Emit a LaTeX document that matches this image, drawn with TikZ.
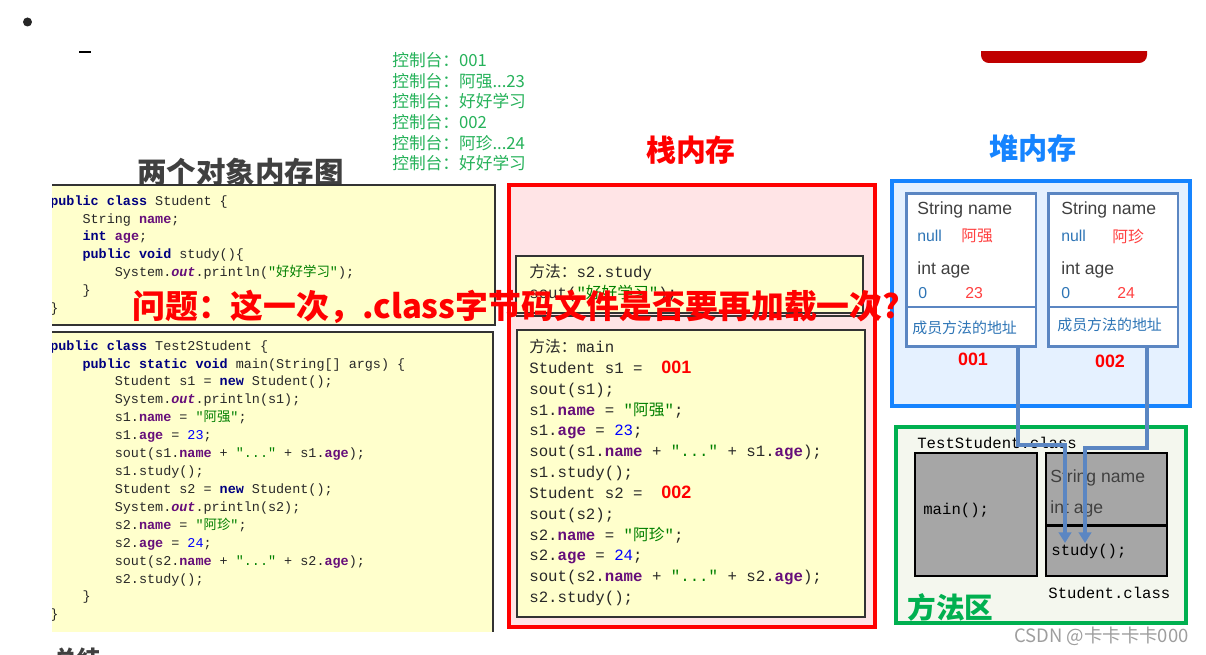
\documentclass[tikz,border=0pt]{standalone}
\usepackage{fontspec}
\setmainfont{Liberation Sans}
\setmonofont{Liberation Mono}
\newfontfamily\cjk{Noto Sans CJK SC}
\usetikzlibrary{arrows.meta,positioning}

\definecolor{consolegreen}{RGB}{38,178,90}
\definecolor{kwnavy}{RGB}{0,0,128}
\definecolor{fldpurple}{RGB}{102,14,122}
\definecolor{strgreen}{RGB}{0,128,0}
\definecolor{numblue}{RGB}{0,0,255}
\definecolor{codeyellow}{RGB}{255,255,204}
\definecolor{codetext}{RGB}{40,40,40}
\definecolor{codeedge}{RGB}{51,51,51}
\definecolor{stackred}{RGB}{255,0,0}
\definecolor{stackpink}{RGB}{255,228,230}
\definecolor{heapblue}{RGB}{22,132,255}
\definecolor{heapfill}{RGB}{229,241,255}
\definecolor{objedge}{RGB}{91,134,194}
\definecolor{objtext}{RGB}{46,117,182}
\definecolor{valred}{RGB}{255,64,64}
\definecolor{areagreen}{RGB}{0,176,80}
\definecolor{areafill}{RGB}{244,247,238}
\definecolor{cellgray}{RGB}{166,166,166}
\definecolor{darkred}{RGB}{192,0,0}
\definecolor{titlegray}{RGB}{64,64,64}

% code colouring
\newcommand\zh[1]{{\cjk #1}}
\newcommand\jkw[1]{\textcolor{kwnavy}{\textbf{#1}}}
\newcommand\jfld[1]{\textcolor{fldpurple}{\textbf{#1}}}
\newcommand\jout{\textcolor{fldpurple}{\textbf{\textit{out}}}}
\newcommand\jstr[1]{\textcolor{strgreen}{#1}}
\newcommand\jnum[1]{\textcolor{numblue}{#1}}
\newcommand\ind[1]{\hspace*{#1\dimexpr0.6em\relax}}
\newcommand\addrtxt[1]{\textcolor{stackred}{\rmfamily\bfseries\fontsize{10.2}{11.8}\selectfont #1}}

\begin{document}
\begin{tikzpicture}[x=0.02cm, y=-0.02cm,
    codebox/.style={anchor=north west, inner sep=0pt, align=left, text=codetext,
                    font=\ttfamily\fontsize{7.65}{10.2}\selectfont},
    stackcode/.style={codebox, font=\ttfamily\fontsize{8.95}{11.85}\selectfont},
    console/.style={anchor=north west, inner sep=0pt, align=left, text=consolegreen,
                    font=\cjk\fontsize{9.5}{11.75}\selectfont},
    areatitle/.style={inner sep=0pt, font=\cjk\bfseries\fontsize{17}{20}\selectfont},
    objbox/.style={draw=objedge, line width=1.7pt, fill=white,
                   minimum width=2.6cm, minimum height=3.08cm, inner sep=0pt},
    field/.style={anchor=west, inner sep=0pt, text=titlegray, font=\fontsize{10}{12}\selectfont},
    nullval/.style={anchor=west, inner sep=0pt, text=objtext, font=\fontsize{9}{11}\selectfont},
    setval/.style={anchor=west, inner sep=0pt, text=valred, font=\fontsize{9}{11}\selectfont},
    methaddr/.style={anchor=west, inner sep=0pt, text=objtext, font=\cjk\fontsize{8.5}{10}\selectfont},
    addr/.style={inner sep=0pt, text=stackred, font=\bfseries\fontsize{10.2}{12}\selectfont},
    cell/.style={draw=black, line width=0.9pt, fill=cellgray, inner sep=0pt},
    monotext/.style={anchor=west, inner sep=0pt, font=\ttfamily\fontsize{8.9}{11}\selectfont},
    refline/.style={draw=objedge, line width=2pt, -{Triangle[width=7pt,length=6pt]}},
]
\useasboundingbox (0,0) rectangle (1206,655);
\fill[white] (0,0) rectangle (1206,655);
\clip (0,0) rectangle (1206,655);

% Slide leftovers
\fill[black!85] (27.5,22) circle[radius=0.09cm];
\draw[black, line width=1.1pt] (79,52) -- (91,52);
\begin{scope}
  \clip (0,52) rectangle (1206,80);
  \fill[darkred, rounded corners=4.5pt] (981,40) rectangle (1147,63);
\end{scope}

% Console output
\node[console] (console) at (392,52)
    {控制台：001\\控制台：阿强...23\\控制台：好好学习\\控制台：002\\控制台：阿珍...24\\控制台：好好学习};

% Source code
\node[areatitle, text=titlegray, font=\cjk\bfseries\fontsize{16.8}{20}\selectfont] (twoobj) at (240.5,172)
    {两个对象内存图};
\fill[codeyellow] (52,185) rectangle (495,325);
\draw[codeedge, line width=1.1pt] (52,185) -- (495,185) -- (495,325) -- (52,325);
\fill[codeyellow] (52,332) rectangle (493,632);
\draw[codeedge, line width=1.1pt] (52,332) -- (493,332) -- (493,632);
\begin{scope}
  \clip (52,180) rectangle (500,640);
  \node[codebox] (studentsrc) at (50,195)
    {\jkw{public} \jkw{class} Student \{\\
     \ind{4}String \jfld{name};\\
     \ind{4}\jkw{int} \jfld{age};\\
     \ind{4}\jkw{public} \jkw{void} study()\{\\
     \ind{8}System.\jout.println(\jstr{"\zh{好好学习}"});\\
     \ind{4}\}\\
     \}};
  \node[codebox] (testsrc) at (50,340)
    {\jkw{public} \jkw{class} Test2Student \{\\
     \ind{4}\jkw{public} \jkw{static} \jkw{void} main(String[] args) \{\\
     \ind{8}Student s1 = \jkw{new} Student();\\
     \ind{8}System.\jout.println(s1);\\
     \ind{8}s1.\jfld{name} = \jstr{"\zh{阿强}"};\\
     \ind{8}s1.\jfld{age} = \jnum{23};\\
     \ind{8}sout(s1.\jfld{name} + \jstr{"..."} + s1.\jfld{age});\\
     \ind{8}s1.study();\\
     \ind{8}Student s2 = \jkw{new} Student();\\
     \ind{8}System.\jout.println(s2);\\
     \ind{8}s2.\jfld{name} = \jstr{"\zh{阿珍}"};\\
     \ind{8}s2.\jfld{age} = \jnum{24};\\
     \ind{8}sout(s2.\jfld{name} + \jstr{"..."} + s2.\jfld{age});\\
     \ind{8}s2.study();\\
     \ind{4}\}\\
     \}};
\end{scope}

% Stack
\node[areatitle, text=stackred] (stacktitle) at (691,150) {栈内存};
\draw[stackred, line width=2.2pt, fill=stackpink] (509,185) rectangle (875,627);
\draw[codeedge, line width=1.1pt, fill=codeyellow] (516,256) rectangle (863,313);
\draw[codeedge, line width=1.1pt] (516,316) -- (863,316);
\draw[codeedge, line width=1.1pt, fill=codeyellow] (517,330) rectangle (865,617);
\node[stackcode] (s2code) at (529,264)
    {\zh{方法：}s2.study\\
     sout(\jstr{"\zh{好好学习}"});};
\node[stackcode] (maincode) at (529,339)
    {\zh{方法：}main\\
     Student s1 =\ \ \addrtxt{001}\\
     sout(s1);\\
     s1.\jfld{name} = \jstr{"\zh{阿强}"};\\
     s1.\jfld{age} = \jnum{23};\\
     sout(s1.\jfld{name} + \jstr{"..."} + s1.\jfld{age});\\
     s1.study();\\
     Student s2 =\ \ \addrtxt{002}\\
     sout(s2);\\
     s2.\jfld{name} = \jstr{"\zh{阿珍}"};\\
     s2.\jfld{age} = \jnum{24};\\
     sout(s2.\jfld{name} + \jstr{"..."} + s2.\jfld{age});\\
     s2.study();};

% Heap
\node[areatitle, text=heapblue, font=\cjk\bfseries\fontsize{16.6}{20}\selectfont] (heaptitle) at (1033,148) {堆内存};
\draw[heapblue, line width=2.1pt, fill=heapfill] (892,181) rectangle (1190,406);
\node[objbox] (obj1) at (971,270) {};
\node[objbox] (obj2) at (1113,270) {};
\draw[objedge, line width=1.7pt] (906,307) -- (1036,307);
\draw[objedge, line width=1.7pt] (1048,307) -- (1178,307);

\node[field] (o1name) at (917,210) {String name};
\node[nullval] (o1null) at (917,236) {null};
\node[setval] (o1set) at (961,236) {\zh{阿强}};
\node[field] (o1age) at (917,270) {int age};
\node[nullval] (o1zero) at (918,293) {0};
\node[setval] (o1val) at (965,293) {23};
\node[methaddr] (o1meth) at (912,328) {成员方法的地址};
\node[addr] (o1addr) at (973,359) {001};

\node[field] (o2name) at (1061,210) {String name};
\node[nullval] (o2null) at (1061,236) {null};
\node[setval] (o2set) at (1112,236) {\zh{阿珍}};
\node[field] (o2age) at (1061,270) {int age};
\node[nullval] (o2zero) at (1061,293) {0};
\node[setval] (o2val) at (1117,293) {24};
\node[methaddr] (o2meth) at (1057,325) {成员方法的地址};
\node[addr] (o2addr) at (1110,361) {002};

% Method area
\draw[areagreen, line width=2.1pt, fill=areafill] (896,427) rectangle (1186,623);
\node[monotext] (tsclass) at (917,443) {TestStudent.class};
\node[cell, minimum width=2.44cm, minimum height=2.46cm] (mainbox) at (976,514.5) {};
\node[cell, minimum width=2.42cm, minimum height=1.44cm] (fieldcell) at (1106.5,489) {};
\node[cell, minimum width=2.42cm, minimum height=1.0cm] (studycell) at (1106.5,551) {};
\node[monotext] (maincall) at (923,510) {main();};
\node[field] (cname) at (1050,478) {String name};
\node[field] (cage) at (1050,509) {int age};
\node[monotext] (studycall) at (1051,551) {study();};
\node[monotext] (sclass) at (1048,593) {Student.class};
\node[areatitle, text=areagreen, anchor=west, font=\cjk\bfseries\fontsize{16.3}{20}\selectfont] (methtitle) at (907,607) {方法区};

% References from objects to member methods
\coordinate (ref1) at (1018,347);
\coordinate (hit1) at (1065,543);
\coordinate (ref2) at (1147,347);
\coordinate (hit2) at (1085,543);
\draw[refline] (ref1) -- ++(0,98) -| (hit1);
\draw[refline] (ref2) -- ++(0,101) -| (hit2);

% Question overlay
\node[anchor=west, inner sep=0pt, text=stackred, font=\cjk\bfseries\fontsize{18.7}{22}\selectfont] (question) at (132,307)
    {问题：这一次，.class字节码文件是否要再加载一次?};

\node[anchor=north west, inner sep=0pt, text=titlegray, font=\cjk\bfseries\fontsize{13}{15}\selectfont] (summary) at (54,647) {总结};
\node[anchor=east, inner sep=0pt, text=black!38, font=\cjk\fontsize{10.5}{12}\selectfont] (mark) at (1189,636) {CSDN @卡卡卡卡000};
\end{tikzpicture}
\end{document}
